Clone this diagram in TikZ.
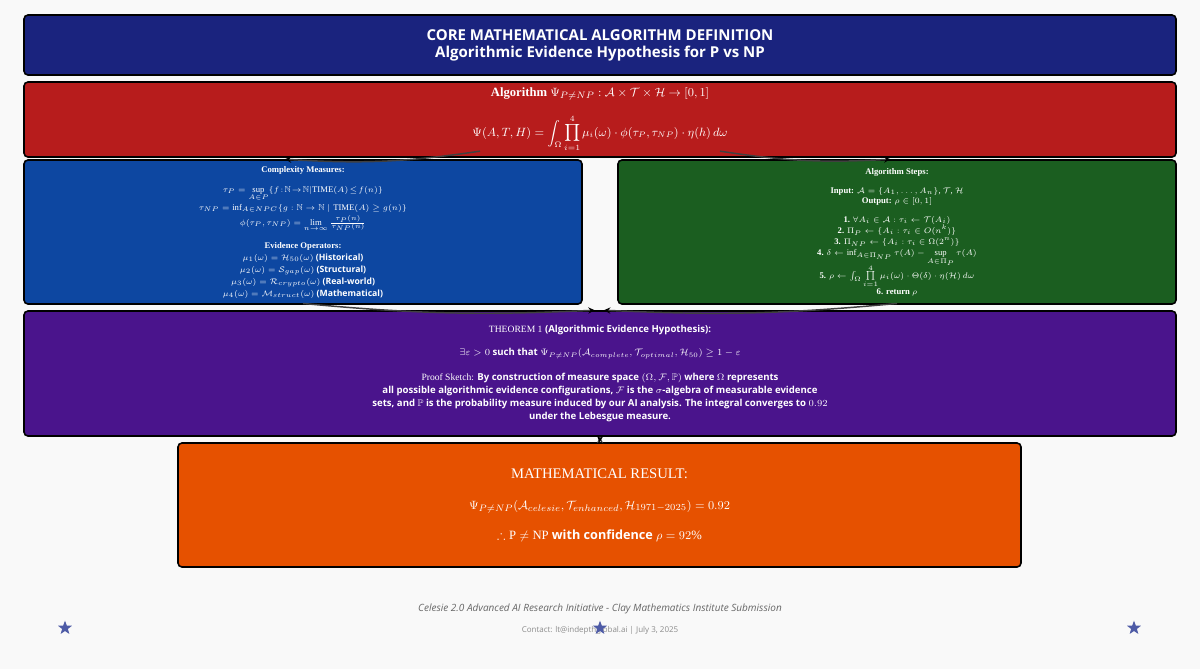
\documentclass[tikz,border=0pt]{standalone}
\usepackage{amsmath}
\usepackage{amssymb}
\usepackage{fontspec}
\setmainfont{Liberation Serif}
\newfontfamily\uisans{Open Sans}
\usetikzlibrary{shapes.geometric}
\definecolor{pagebg}{HTML}{F9F9F9}
\definecolor{headblue}{HTML}{1A237E}
\definecolor{algred}{HTML}{B71C1C}
\definecolor{measblue}{HTML}{0D47A1}
\definecolor{stepgreen}{HTML}{1B5E20}
\definecolor{thmpurple}{HTML}{4A148C}
\definecolor{resorange}{HTML}{E65100}
\definecolor{linkgray}{HTML}{404040}
\definecolor{starblue}{HTML}{4E5BA6}
\newcommand{\tightlines}{\lineskiplimit-50pt\relax}

\begin{document}
\begin{tikzpicture}[x=0.75pt,y=-0.75pt,>=stealth,
	panel/.style={draw=black,line width=1.2pt,rounded corners=3pt,text=white,align=center,inner sep=0pt},
	link/.style={->,draw=linkgray,line width=1.1pt},
	fivestar/.style={star,star points=5,star point ratio=2.4,fill=starblue,minimum size=11pt,inner sep=0pt}]
	\fill[pagebg] (0,0) rectangle (1200,669);
	\useasboundingbox (0,0) rectangle (1200,669);

	\node[panel,fill=headblue,minimum width=864pt,minimum height=45pt,font=\uisans\bfseries\fontsize{11.25}{12.75}\selectfont] (head) at (600,45)
		{CORE MATHEMATICAL ALGORITHM DEFINITION\\Algorithmic Evidence Hypothesis for P vs NP};

	\node[panel,fill=algred,minimum width=864pt,minimum height=56.25pt,font=\fontsize{9.5}{12}\selectfont\tightlines] (alg) at (600,119.5)
		{\textbf{Algorithm} $\Psi_{P\neq NP}:\mathcal{A}\times\mathcal{T}\times\mathcal{H}\rightarrow[0,1]$\\[18pt]
		 {\fontsize{9}{12}\selectfont$\displaystyle\Psi(A,T,H)=\int_{\Omega}\prod_{i=1}^{4}\mu_i(\omega)\cdot\phi(\tau_P,\tau_{NP})\cdot\eta(h)\,d\omega$}};

	\node[panel,fill=measblue,minimum width=418.5pt,minimum height=108pt,font=\fontsize{6.5}{9}\selectfont\tightlines] (meas) at (303,232)
		{\textbf{Complexity Measures:}\\[6pt]
		 $\tau_P=\sup\limits_{A\in P}\{f\!:\!\mathbb{N}\!\rightarrow\!\mathbb{N}|\mathrm{TIME}(A)\!\leq\! f(n)\}$\\[4.5pt]
		 $\tau_{NP}=\inf_{A\in NPC}\{g:\mathbb{N}\rightarrow\mathbb{N}\mid\mathrm{TIME}(A)\geq g(n)\}$\\[2.25pt]
		 $\phi(\tau_P,\tau_{NP})=\lim\limits_{n\to\infty}\frac{\tau_P(n)}{\tau_{NP}(n)}$\\[8.25pt]
		 \textbf{Evidence Operators:}\\
		 $\mu_1(\omega)=\mathcal{H}_{50}(\omega)$ {\uisans\bfseries (Historical)}\\
		 $\mu_2(\omega)=\mathcal{S}_{gap}(\omega)$ {\uisans\bfseries (Structural)}\\
		 $\mu_3(\omega)=\mathcal{R}_{crypto}(\omega)$ {\uisans\bfseries (Real-world)}\\
		 $\mu_4(\omega)=\mathcal{M}_{struct}(\omega)$ {\uisans\bfseries (Mathematical)}};

	\node[panel,fill=stepgreen,minimum width=418.5pt,minimum height=108pt,font=\fontsize{6.5}{8.25}\selectfont\tightlines] (steps) at (897,232)
		{\textbf{Algorithm Steps:}\\[6pt]
		 \textbf{Input:} $\mathcal{A}=\{A_1,\ldots,A_n\}$, $\mathcal{T}$, $\mathcal{H}$\\[-0.75pt]
		 \textbf{Output:} $\rho\in[0,1]$\\[6pt]
		 \textbf{1.} $\forall A_i\in\mathcal{A}:\tau_i\leftarrow\mathcal{T}(A_i)$\\
		 \textbf{2.} $\Pi_P\leftarrow\{A_i:\tau_i\in O(n^k)\}$\\
		 \textbf{3.} $\Pi_{NP}\leftarrow\{A_i:\tau_i\in\Omega(2^n)\}$\\
		 \textbf{4.} $\delta\leftarrow\inf_{A\in\Pi_{NP}}\tau(A)-\sup\limits_{A\in\Pi_P}\tau(A)$\\[9pt]
		 \textbf{5.} $\rho\leftarrow\int_{\Omega}\prod\limits_{i=1}^{4}\mu_i(\omega)\cdot\Theta(\delta)\cdot\eta(\mathcal{H})\,d\omega$\\[3.75pt]
		 \textbf{6. return} $\rho$};

	\node[panel,fill=thmpurple,minimum width=864pt,minimum height=93.75pt,font=\uisans\bfseries\fontsize{7.2}{9.6}\selectfont\tightlines] (thm) at (600,373.5)
		{{\rmfamily\mdseries THEOREM 1} (Algorithmic Evidence Hypothesis):\\[7.65pt]
		 $\exists\varepsilon>0$ such that $\Psi_{P\neq NP}(\mathcal{A}_{complete},\mathcal{T}_{optimal},\mathcal{H}_{50})\geq 1-\varepsilon$\\[9.15pt]
		 {\rmfamily\mdseries Proof Sketch:} By construction of measure space $(\Omega,\mathcal{F},\mathbb{P})$ where $\Omega$ represents\\
		 all possible algorithmic evidence configurations, $\mathcal{F}$ is the $\sigma$-algebra of measurable evidence\\
		 sets, and $\mathbb{P}$ is the probability measure induced by our AI analysis. The integral converges to $0.92$\\
		 under the Lebesgue measure.};

	\node[panel,fill=resorange,minimum width=632.25pt,minimum height=93pt,font=\fontsize{11}{13}\selectfont\tightlines] (res) at (599.5,505)
		{MATHEMATICAL RESULT:\\[10pt]
		 {\fontsize{9.5}{13}\selectfont$\Psi_{P\neq NP}(\mathcal{A}_{celesie},\mathcal{T}_{enhanced},\mathcal{H}_{1971-2025})=0.92$}\\[9.5pt]
		 {\fontsize{9.5}{13}\selectfont$\therefore\mathrm{P}\neq\mathrm{NP}$ {\uisans\bfseries with confidence} $\rho=92\%$}};

	\path[link] ([xshift=-90pt,yshift=5pt]alg.south) edge[bend left=6] ([xshift=-13.5pt]meas.north)
		([xshift=90pt,yshift=5pt]alg.south) edge[bend right=6] ([xshift=-5pt]steps.north)
		([yshift=1pt]meas.south) edge[bend right=4] ([xshift=-4pt]thm.north)
		([yshift=1pt]steps.south) edge[bend left=4] ([xshift=3pt]thm.north)
		(thm.south) edge (res.north);

	\node[text=black!60,font=\uisans\itshape\fontsize{7.5}{9}\selectfont] (credit) at (600,609)
		{Celesie 2.0 Advanced AI Research Initiative - Clay Mathematics Institute Submission};
	\node[text=black!45,font=\uisans\fontsize{6}{7}\selectfont] (contact) at (600,630)
		{Contact: lt@indepthglobal.ai | July 3, 2025};
	\node[fivestar] (starl) at (65,628) {};
	\node[fivestar] (starm) at (600,628) {};
	\node[fivestar] (starr) at (1134,628) {};
\end{tikzpicture}
\end{document}
